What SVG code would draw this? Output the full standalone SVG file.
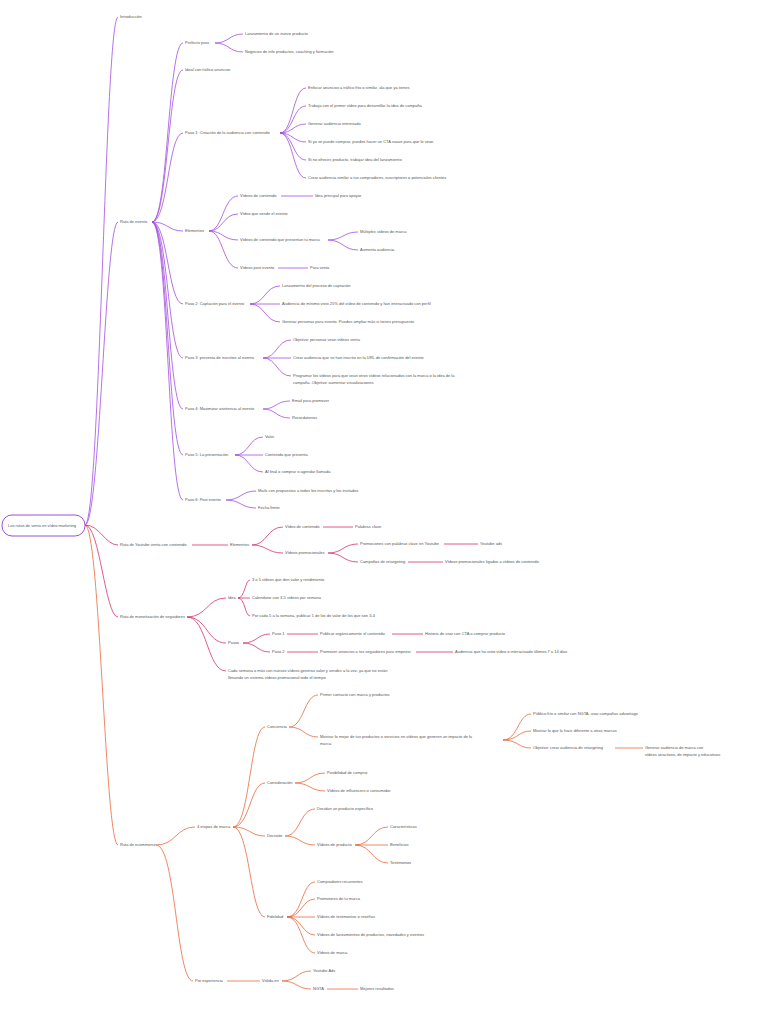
<svg xmlns="http://www.w3.org/2000/svg" width="768" height="1024" viewBox="0 0 768 1024">
<style>
text{font-family:"Liberation Sans",Arial,sans-serif;font-size:4px;fill:#555;dominant-baseline:middle}
path{fill:none;stroke-width:0.8}
.p{stroke:#a34ee0}.m{stroke:#d6336c}.o{stroke:#e8693c}
</style>
<rect width="768" height="1024" fill="#fff"/>
<g id="connectors">
<path class="p" d="M85,525 C100,525 105,17 118,17"/>
<path class="p" d="M85,525 C100,525 105,222 118,222"/>
<path class="m" d="M85,525 C100,525 105,545 118,545"/>
<path class="m" d="M85,525 C100,525 105,617 118,617"/>
<path class="o" d="M85,525 C100,525 105,845 118,845"/>
<path class="p" d="M152,222 C168,222 168,43 183,43"/>
<path class="p" d="M152,222 C168,222 168,70 183,70"/>
<path class="p" d="M152,222 C168,222 168,133 183,133"/>
<path class="p" d="M152,222 C168,222 168,231 183,231"/>
<path class="p" d="M152,222 C168,222 168,304 183,304"/>
<path class="p" d="M152,222 C168,222 168,358 183,358"/>
<path class="p" d="M152,222 C168,222 168,409 183,409"/>
<path class="p" d="M152,222 C168,222 168,455 183,455"/>
<path class="p" d="M152,222 C168,222 168,500 183,500"/>
<path class="p" d="M215,43 C229,43 229,34 243,34"/>
<path class="p" d="M215,43 C229,43 229,52 243,52"/>
<path class="p" d="M280,133 C293,133 293,88 306,88"/>
<path class="p" d="M280,133 C293,133 293,106 306,106"/>
<path class="p" d="M280,133 C293,133 293,124 306,124"/>
<path class="p" d="M280,133 C293,133 293,142 306,142"/>
<path class="p" d="M280,133 C293,133 293,160 306,160"/>
<path class="p" d="M280,133 C293,133 293,178 306,178"/>
<path class="p" d="M209,231 C223,231 223,196 238,196"/>
<path class="p" d="M209,231 C223,231 223,214 238,214"/>
<path class="p" d="M209,231 C223,231 223,240 238,240"/>
<path class="p" d="M209,231 C223,231 223,268 238,268"/>
<path class="p" d="M281,196 L313,196"/>
<path class="p" d="M328,240 C343,240 343,232 358,232"/>
<path class="p" d="M328,240 C343,240 343,250 358,250"/>
<path class="p" d="M278,268 L308,268"/>
<path class="p" d="M250,304 C265,304 265,286 280,286"/>
<path class="p" d="M250,304 L280,304"/>
<path class="p" d="M250,304 C265,304 265,322 280,322"/>
<path class="p" d="M263,358 C277,358 277,340 291,340"/>
<path class="p" d="M263,358 L291,358"/>
<path class="p" d="M263,358 C277,358 277,376 291,376"/>
<path class="p" d="M263,409 C276,409 276,401 290,401"/>
<path class="p" d="M263,409 C276,409 276,418 290,418"/>
<path class="p" d="M235,455 C249,455 249,437 263,437"/>
<path class="p" d="M235,455 L263,455"/>
<path class="p" d="M235,455 C249,455 249,472 263,472"/>
<path class="p" d="M226,500 C241,500 241,491 256,491"/>
<path class="p" d="M226,500 C241,500 241,508 256,508"/>
<path class="m" d="M192,545 L228,545"/>
<path class="m" d="M252,545 C267,545 267,527 283,527"/>
<path class="m" d="M252,545 C267,545 267,553 283,553"/>
<path class="m" d="M323,527 L353,527"/>
<path class="m" d="M328,553 C343,553 343,544 358,544"/>
<path class="m" d="M328,553 C343,553 343,562 358,562"/>
<path class="m" d="M444,544 L478,544"/>
<path class="m" d="M408,562 L443,562"/>
<path class="m" d="M187,617 C207,617 207,598 226,598"/>
<path class="m" d="M187,617 C207,617 207,643 226,643"/>
<path class="m" d="M187,617 C207,617 207,671 226,671"/>
<path class="m" d="M238,598 C245,598 245,580 250,580"/>
<path class="m" d="M238,598 L250,598"/>
<path class="m" d="M238,598 C245,598 245,616 250,616"/>
<path class="m" d="M243,643 C257,643 257,634 270,634"/>
<path class="m" d="M243,643 C257,643 257,652 270,652"/>
<path class="m" d="M287,634 L318,634"/>
<path class="m" d="M287,652 L318,652"/>
<path class="m" d="M392,634 L423,634"/>
<path class="m" d="M416,652 L453,652"/>
<path class="o" d="M156,845 C176,845 176,827 195,827"/>
<path class="o" d="M156,845 C176,845 176,981 193,981"/>
<path class="o" d="M233,827 C250,827 250,727 265,727"/>
<path class="o" d="M233,827 C250,827 250,783 265,783"/>
<path class="o" d="M233,827 C250,827 250,836 265,836"/>
<path class="o" d="M233,827 C250,827 250,917 265,917"/>
<path class="o" d="M289,727 C304,727 304,695 318,695"/>
<path class="o" d="M289,727 C304,727 304,737 318,737"/>
<path class="o" d="M503,740 C518,740 518,714 531,714"/>
<path class="o" d="M503,740 C518,740 518,731 531,731"/>
<path class="o" d="M503,740 C518,740 518,748 531,748"/>
<path class="o" d="M615,748 L643,748"/>
<path class="o" d="M295,783 C310,783 310,773 325,773"/>
<path class="o" d="M295,783 C310,783 310,791 325,791"/>
<path class="o" d="M285,836 C300,836 300,809 315,809"/>
<path class="o" d="M285,836 C300,836 300,845 315,845"/>
<path class="o" d="M355,845 C372,845 372,827 388,827"/>
<path class="o" d="M355,845 L388,845"/>
<path class="o" d="M355,845 C372,845 372,863 388,863"/>
<path class="o" d="M287,917 C302,917 302,882 315,882"/>
<path class="o" d="M287,917 C302,917 302,899 315,899"/>
<path class="o" d="M287,917 L315,917"/>
<path class="o" d="M287,917 C302,917 302,935 315,935"/>
<path class="o" d="M287,917 C302,917 302,953 315,953"/>
<path class="o" d="M227,981 L260,981"/>
<path class="o" d="M282,981 C297,981 297,971 311,971"/>
<path class="o" d="M282,981 C297,981 297,989 311,989"/>
<path class="o" d="M327,989 L358,989"/>
</g>
<g id="root"><rect x="2" y="515" width="83" height="21" rx="10" fill="#fff" stroke="#8c3fd0" stroke-width="0.9"/><text x="8" y="525.5">Las rutas de venta en vídeo marketing</text></g>
<g id="nodes">
<g id="n1"><text x="120" y="17">Introducción</text></g>
<g id="n2"><text x="120" y="222">Ruta de evento</text></g>
<g id="n3"><text x="185" y="43">Perfecto para</text></g>
<g id="n4"><text x="245" y="34">Lanzamiento de un nuevo producto</text></g>
<g id="n5"><text x="245" y="52">Negocios de info productos, coaching y formación</text></g>
<g id="n6"><text x="185" y="70">Ideal con tráfico anuncios</text></g>
<g id="n7"><text x="185" y="133">Paso 1: Creación de la audiencia con contenido</text></g>
<g id="n8"><text x="308" y="88">Enfocar anuncios a tráfico frío o similar, ala que ya tienes</text></g>
<g id="n9"><text x="308" y="106">Trabaja con el primer vídeo para desarrollar la idea de campaña</text></g>
<g id="n10"><text x="308" y="124">Generar audiencia interesada</text></g>
<g id="n11"><text x="308" y="142">Si ya se puede comprar, puedes hacer un CTA suave para que lo vean</text></g>
<g id="n12"><text x="308" y="160">Si no ofreces producto, trabajar idea del lanzamiento</text></g>
<g id="n13"><text x="308" y="178">Crear audiencia similar a tus compradores, suscriptores o potenciales clientes</text></g>
<g id="n14"><text x="185" y="231">Elementos</text></g>
<g id="n15"><text x="240" y="196">Vídeos de contenido</text></g>
<g id="n16"><text x="315" y="196">Idea principal para apoyar</text></g>
<g id="n17"><text x="240" y="214">Vídeo que vende el evento</text></g>
<g id="n18"><text x="240" y="240">Vídeos de contenido que presentan tu marca</text></g>
<g id="n19"><text x="360" y="232">Múltiples vídeos de marca</text></g>
<g id="n20"><text x="360" y="250">Aumenta audiencia</text></g>
<g id="n21"><text x="240" y="268">Vídeos post evento</text></g>
<g id="n22"><text x="310" y="268">Para venta</text></g>
<g id="n23"><text x="185" y="304">Paso 2: Captación para el evento</text></g>
<g id="n24"><text x="282" y="286">Lanzamiento del proceso de captación</text></g>
<g id="n25"><text x="282" y="304">Audiencia de mínimo visto 25% del vídeo de contenido y han interactuado con perfil</text></g>
<g id="n26"><text x="282" y="322">Generar personas para evento. Puedes ampliar más si tienes presupuesto</text></g>
<g id="n27"><text x="185" y="358">Paso 3: preventa de inscritos al evento</text></g>
<g id="n28"><text x="293" y="340">Objetivo: personas vean vídeos venta</text></g>
<g id="n29"><text x="293" y="358">Crear audiencia que se han inscrito en la URL de confirmación del evento</text></g>
<g id="n30"><text x="293" y="376">Programar los vídeos para que vean otros vídeos relacionados con la marca o la idea de la</text><text x="293" y="383">campaña. Objetivo: aumentar visualizaciones</text></g>
<g id="n31"><text x="185" y="409">Paso 4: Maximizar asistencia al evento</text></g>
<g id="n32"><text x="292" y="401">Email para promover</text></g>
<g id="n33"><text x="292" y="418">Recordatorios</text></g>
<g id="n34"><text x="185" y="455">Paso 5: La presentación</text></g>
<g id="n35"><text x="265" y="437">Valor</text></g>
<g id="n36"><text x="265" y="455">Contenido que preventa</text></g>
<g id="n37"><text x="265" y="472">Al final o comprar o agendar llamada</text></g>
<g id="n38"><text x="185" y="500">Paso 6: Post evento</text></g>
<g id="n39"><text x="258" y="491">Mails con propuestas a todos los inscritos y los invitados</text></g>
<g id="n40"><text x="258" y="508">Fecha límite</text></g>
<g id="n41"><text x="120" y="545">Ruta de Youtube venta con contenido</text></g>
<g id="n42"><text x="230" y="545">Elementos</text></g>
<g id="n43"><text x="285" y="527">Vídeo de contenido</text></g>
<g id="n44"><text x="355" y="527">Palabras clave</text></g>
<g id="n45"><text x="285" y="553">Vídeos promocionales</text></g>
<g id="n46"><text x="360" y="544">Promociones con palabras clave en Youtube</text></g>
<g id="n47"><text x="480" y="544">Youtube ads</text></g>
<g id="n48"><text x="360" y="562">Campañas de retargeting</text></g>
<g id="n49"><text x="445" y="562">Vídeos promocionales ligados a vídeos de contenido</text></g>
<g id="n50"><text x="120" y="617">Ruta de monetización de seguidores</text></g>
<g id="n51"><text x="228" y="598">Idea</text></g>
<g id="n52"><text x="252" y="580">3 a 5 vídeos que den valor y rendimiento</text></g>
<g id="n53"><text x="252" y="598">Calendario con 3-5 vídeos por semana</text></g>
<g id="n54"><text x="252" y="616">Por cada 5 a la semana, publicar 1 de los de valor de los que son 3-4</text></g>
<g id="n55"><text x="228" y="643">Pasos</text></g>
<g id="n56"><text x="272" y="634">Paso 1</text></g>
<g id="n57"><text x="320" y="634">Publicar orgánicamente el contenido</text></g>
<g id="n58"><text x="425" y="634">Historia de usar con CTA a comprar producto</text></g>
<g id="n59"><text x="272" y="652">Paso 2</text></g>
<g id="n60"><text x="320" y="652">Promover anuncios a tus seguidores para empezar</text></g>
<g id="n61"><text x="455" y="652">Audiencia que ha visto vídeo o interactuado últimos 7 a 14 días</text></g>
<g id="n62"><text x="228" y="671">Cada semana o más con nuevos vídeos generas valor y vendes a la vez, ya que no están</text><text x="228" y="678">llenando un sistema vídeos promocional todo el tiempo</text></g>
<g id="n63"><text x="120" y="845">Ruta de ecommerce</text></g>
<g id="n64"><text x="197" y="827">4 etapas de marca</text></g>
<g id="n65"><text x="267" y="727">Conciencia</text></g>
<g id="n66"><text x="320" y="695">Primer contacto con marca y productos</text></g>
<g id="n67"><text x="320" y="737">Mostrar lo mejor de tus productos o servicios en vídeos que generen un impacto de la</text><text x="320" y="744">marca</text></g>
<g id="n68"><text x="533" y="714">Público frío o similar con NGTA, usar campañas advantage</text></g>
<g id="n69"><text x="533" y="731">Mostrar lo que la hace diferente a otras marcas</text></g>
<g id="n70"><text x="533" y="748">Objetivo: crear audiencia de retargeting</text></g>
<g id="n71"><text x="645" y="748">Generar audiencia de marca con</text><text x="645" y="755">vídeos atractivos, de impacto y educativos</text></g>
<g id="n72"><text x="267" y="783">Consideración</text></g>
<g id="n73"><text x="327" y="773">Posibilidad de comprar</text></g>
<g id="n74"><text x="327" y="791">Vídeos de influencers o consumidor</text></g>
<g id="n75"><text x="267" y="836">Decisión</text></g>
<g id="n76"><text x="317" y="809">Decidan un producto específico</text></g>
<g id="n77"><text x="317" y="845">Vídeos de producto</text></g>
<g id="n78"><text x="390" y="827">Características</text></g>
<g id="n79"><text x="390" y="845">Beneficios</text></g>
<g id="n80"><text x="390" y="863">Testimonios</text></g>
<g id="n81"><text x="267" y="917">Fidelidad</text></g>
<g id="n82"><text x="317" y="882">Compradores recurrentes</text></g>
<g id="n83"><text x="317" y="899">Promotores de tu marca</text></g>
<g id="n84"><text x="317" y="917">Vídeos de testimonios o reseñas</text></g>
<g id="n85"><text x="317" y="935">Vídeos de lanzamientos de productos, novedades y eventos</text></g>
<g id="n86"><text x="317" y="953">Vídeos de marca</text></g>
<g id="n87"><text x="195" y="981">Por experiencia</text></g>
<g id="n88"><text x="262" y="981">Válida en</text></g>
<g id="n89"><text x="313" y="971">Youtube Ads</text></g>
<g id="n90"><text x="313" y="989">NGTA</text></g>
<g id="n91"><text x="360" y="989">Mejores resultados</text></g>
</g>
</svg>
